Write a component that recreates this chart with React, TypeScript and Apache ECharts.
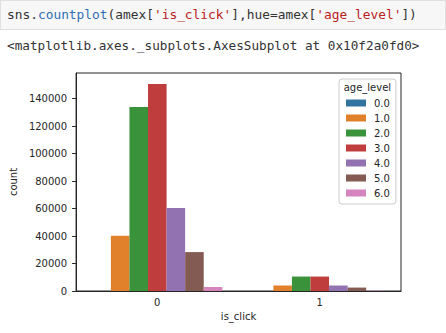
import React, { useEffect, useRef } from "react";
import * as echarts from "echarts";

const categories = ["0", "1"];
const hueLevels = ["0.0", "1.0", "2.0", "3.0", "4.0", "5.0", "6.0"];
// counts per age_level, for is_click = 0 and is_click = 1
const age0 = [0, 0];
const age1 = [40100, 4000];
const age2 = [133800, 10500];
const age3 = [150600, 10500];
const age4 = [60300, 4000];
const age5 = [28300, 2500];
const age6 = [2900, 300];
const yTicks = [0, 20000, 40000, 60000, 80000, 100000, 120000, 140000];
const palette = ["#3274a1", "#e1812c", "#3a923a", "#c03d3e", "#9372b2", "#845b53", "#d684bd"];

const seriesValues = [age0, age1, age2, age3, age4, age5, age6];

const mono = "'DejaVu Sans Mono', monospace";
const sans = "'DejaVu Sans', sans-serif";

export default function App() {
  const ref = useRef<HTMLDivElement>(null);

  useEffect(() => {
    document.body.style.margin = "0";
    if (!ref.current) return;
    const chart = echarts.init(ref.current, undefined, { renderer: "svg" });
    const axisColor = "#262626";
    chart.setOption({
      animation: false,
      color: palette,
      textStyle: { fontFamily: sans },
      grid: {
        left: 66,
        top: 73,
        width: 335,
        height: 218,
        show: true,
        borderColor: axisColor,
        borderWidth: 1,
        backgroundColor: "transparent",
      },
      legend: {
        orient: "vertical",
        left: 339,
        top: 79,
        data: hueLevels,
        itemWidth: 20,
        itemHeight: 7,
        itemGap: 3,
        icon: "rect",
        padding: [18, 6, 5, 7],
        borderColor: "#cccccc",
        borderWidth: 1,
        borderRadius: 3,
        backgroundColor: "rgba(255,255,255,0.8)",
        textStyle: {
          fontFamily: sans,
          fontSize: 10,
          color: "#262626",
          lineHeight: 12,
          padding: [0, 0, 0, 3],
        },
      },
      graphic: [
        {
          type: "text",
          left: 367.7 - 24,
          top: 82,
          style: {
            text: "age_level",
            fontFamily: sans,
            fontSize: 10,
            fill: "#262626",
          },
          z: 100,
        },
      ],
      xAxis: {
        type: "category",
        data: categories,
        name: "is_click",
        nameLocation: "middle",
        nameGap: 20,
        nameTextStyle: { fontFamily: sans, fontSize: 10, color: "#262626" },
        axisLine: { lineStyle: { color: axisColor, width: 1 } },
        axisTick: { alignWithLabel: true, length: 4, lineStyle: { color: axisColor } },
        axisLabel: { fontFamily: sans, fontSize: 10, color: "#262626", margin: 6 },
        splitLine: { show: false },
      },
      yAxis: {
        type: "value",
        min: 0,
        max: 158550,
        interval: 20000,
        name: "count",
        nameLocation: "middle",
        nameGap: 50,
        nameTextStyle: { fontFamily: sans, fontSize: 10, color: "#262626" },
        axisLine: { show: true, lineStyle: { color: axisColor, width: 1 } },
        axisTick: { show: true, length: 4, lineStyle: { color: axisColor } },
        axisLabel: {
          fontFamily: sans,
          fontSize: 10,
          color: "#262626",
          margin: 9,
          showMaxLabel: false,
          formatter: (v: number) => (yTicks.includes(v) ? String(v) : ""),
        },
        splitLine: { show: false },
      },
      series: hueLevels.map((name, i) => ({
        name,
        type: "bar",
        data: seriesValues[i],
        barGap: "0%",
        barCategoryGap: "20%",
        itemStyle: { color: palette[i] },
      })),
    });
    return () => chart.dispose();
  }, []);

  return (
    <div style={{ position: "relative", width: 446, height: 333, background: "#fff", overflow: "hidden" }}>
      <div ref={ref} style={{ position: "absolute", left: 0, top: 0, width: 446, height: 333 }} />
      <div
        style={{
          position: "absolute",
          left: 0,
          top: 0,
          width: 444,
          height: 28,
          background: "#f7f7f7",
          border: "1px solid #e0e0e0",
        }}
      />
      <div
        style={{
          position: "absolute",
          left: 7,
          top: 6,
          fontFamily: mono,
          fontSize: 12.85,
          lineHeight: "18px",
          whiteSpace: "pre",
          color: "#333",
        }}
      >
        <span>sns.</span>
        <span style={{ color: "#2f6db5" }}>countplot</span>
        <span>(amex[</span>
        <span style={{ color: "#ba2121" }}>'is_click'</span>
        <span>],hue=amex[</span>
        <span style={{ color: "#ba2121" }}>'age_level'</span>
        <span>])</span>
      </div>
      <div
        style={{
          position: "absolute",
          left: 7,
          top: 37,
          fontFamily: mono,
          fontSize: 12.7,
          lineHeight: "18px",
          whiteSpace: "pre",
          color: "#333",
        }}
      >
        {"<matplotlib.axes._subplots.AxesSubplot at 0x10f2a0fd0>"}
      </div>
    </div>
  );
}
